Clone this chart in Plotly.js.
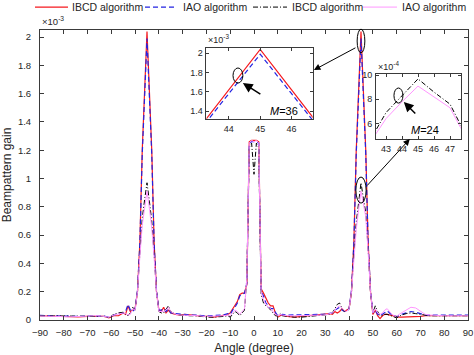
<!DOCTYPE html>
<html>
<head>
<meta charset="utf-8">
<script src="https://cdn.plot.ly/plotly-3.0.1.min.js"></script>
<style>html,body{margin:0;padding:0;background:#fff;}#chart{width:474px;height:355px;}</style>
</head>
<body>
<div id="chart"></div>
<script>
// Angle grid (degrees)
const angleDeg = [
  -90,-86,-82,-78,-74,-70,-66,-63,-61,-59,
  -57,-55,-54,-53,-52,-51,-50,-49,-48,-47,
  -46,-45,-44,-43,-42,-41,-40,-39,-38,-37,
  -36,-35,-33,-31,-29,-27,-25,-23,-21,-19,
  -17,-15,-13,-11,-10,-9,-8,-7,-6,-5,
  -4,-3,-2,-1,0,1,2,3,4,5,
  6,7,8,9,10,11,12,14,17,20,
  23,26,29,31,32,33,34,35,36,37,
  38,39,40,41,42,43,44,45,46,47,
  48,49,50,51,52,53,54,55,56,57,
  58,59,60,61,62,64,66,68,70,72,
  74,77,80,84,88,90
];
// Beampattern gain, in units of 1e-3
const ibcdM36 = [
  0.03,0.028,0.025,0.022,0.022,0.025,0.028,0.025,0.015,0.03,
  0.03,0.05,0.04,0.1,0.06,0.07,0.08,0.2,0.55,1.2,
  1.62,2.04,1.62,1.2,0.55,0.2,0.07,0.06,0.09,0.05,
  0.07,0.05,0.04,0.035,0.04,0.035,0.03,0.028,0.025,0.025,
  0.02,0.025,0.03,0.04,0.05,0.08,0.1,0.13,0.18,0.19,
  0.19,0.25,1.26,1.27,1.27,1.27,1.26,0.22,0.19,0.15,
  0.12,0.1,0.1,0.05,0.02,0.03,0.035,0.025,0.02,0.025,
  0.03,0.03,0.035,0.04,0.045,0.04,0.06,0.05,0.06,0.08,
  0.06,0.07,0.08,0.2,0.55,1.2,1.62,2.04,1.62,1.2,
  0.55,0.2,0.04,0.07,0.03,0.01,0.03,0.04,0.04,0.035,
  0.03,0.025,0.02,0.02,0.02,0.02,0.02,0.02,0.025,0.03,
  0.03,0.03,0.032,0.03,0.03,0.03
];
const iaoM36 = [
  0.032,0.03,0.028,0.025,0.025,0.028,0.03,0.028,0.018,0.035,
  0.045,0.05,0.06,0.11,0.07,0.06,0.08,0.21,0.54,1.17,
  1.58,1.99,1.58,1.17,0.54,0.21,0.07,0.07,0.08,0.06,
  0.08,0.05,0.045,0.04,0.04,0.035,0.035,0.03,0.03,0.03,
  0.03,0.03,0.035,0.045,0.04,0.07,0.09,0.12,0.17,0.18,
  0.19,0.26,1.25,1.26,1.26,1.26,1.25,0.2,0.17,0.12,
  0.1,0.08,0.08,0.05,0.03,0.035,0.04,0.035,0.035,0.035,
  0.035,0.04,0.04,0.045,0.045,0.05,0.07,0.08,0.09,0.07,
  0.06,0.06,0.08,0.21,0.54,1.17,1.58,1.99,1.58,1.17,
  0.54,0.21,0.05,0.07,0.04,0.03,0.04,0.05,0.065,0.05,
  0.035,0.03,0.025,0.03,0.04,0.05,0.06,0.055,0.045,0.035,
  0.035,0.035,0.035,0.035,0.035,0.035
];
const ibcdM24 = [
  0.03,0.03,0.025,0.025,0.025,0.03,0.03,0.025,0.015,0.04,
  0.05,0.055,0.04,0.03,0.05,0.09,0.07,0.2,0.47,0.72,
  0.85,0.97,0.84,0.7,0.46,0.2,0.06,0.05,0.05,0.08,
  0.1,0.06,0.04,0.035,0.03,0.03,0.03,0.025,0.02,0.02,
  0.02,0.02,0.025,0.03,0.02,0.04,0.06,0.05,0.03,0.05,
  0.07,0.3,1.22,1.25,1.03,1.25,1.22,0.18,0.12,0.1,
  0.09,0.07,0.05,0.03,0.03,0.045,0.03,0.025,0.02,0.02,
  0.025,0.025,0.03,0.035,0.04,0.05,0.08,0.11,0.12,0.08,
  0.06,0.06,0.08,0.2,0.46,0.69,0.83,0.97,0.86,0.76,
  0.5,0.2,0.05,0.1,0.06,0.03,0.03,0.04,0.04,0.035,
  0.03,0.025,0.015,0.025,0.035,0.045,0.05,0.045,0.04,0.035,
  0.03,0.03,0.03,0.03,0.03,0.03
];
const iaoM24 = [
  0.028,0.028,0.025,0.022,0.025,0.028,0.03,0.025,0.02,0.035,
  0.045,0.05,0.045,0.035,0.04,0.08,0.07,0.2,0.45,0.67,
  0.79,0.91,0.79,0.65,0.44,0.2,0.06,0.06,0.06,0.07,
  0.09,0.06,0.04,0.035,0.035,0.03,0.03,0.03,0.025,0.025,
  0.025,0.025,0.03,0.035,0.03,0.05,0.07,0.06,0.04,0.06,
  0.08,0.3,1.25,1.27,1.26,1.27,1.25,0.2,0.14,0.11,
  0.09,0.08,0.06,0.04,0.03,0.04,0.035,0.03,0.03,0.03,
  0.03,0.03,0.035,0.04,0.045,0.05,0.07,0.09,0.1,0.08,
  0.065,0.06,0.08,0.2,0.44,0.64,0.78,0.91,0.82,0.73,
  0.48,0.2,0.05,0.08,0.05,0.04,0.05,0.07,0.08,0.06,
  0.04,0.03,0.025,0.04,0.05,0.07,0.09,0.085,0.06,0.04,
  0.035,0.03,0.03,0.03,0.03,0.03
];
const seriesNames = ['IBCD algorithm','IAO algorithm','IBCD algorithm','IAO algorithm'];
const mainXTicks = [-90,-80,-70,-60,-50,-40,-30,-20,-10,0,10,20,30,40,50,60,70,80,90];
const mainYTicks = [0,0.2,0.4,0.6,0.8,1,1.2,1.4,1.6,1.8,2];
const inset36XTicks = [44,45,46];
const inset36YTicks = [1.4,1.6,1.8,2];
const inset24XTicks = [43,44,45,46,47];
const inset24YTicks = [0.6,0.8,1.0];
const inset24YText = ['6','8','10'];

const RED='rgb(245,25,30)', BLUE='rgb(35,35,225)', BLACK='rgb(0,0,0)', PINK='rgb(255,150,255)';
const styles = [
  {color:RED, dash:'solid', width:1.2},
  {color:BLUE, dash:'5px,3px', width:1.2},
  {color:BLACK, dash:'5px,2px,1px,2px', width:1},
  {color:PINK, dash:'solid', width:1}
];
const data = [ibcdM36, iaoM36, ibcdM24, iaoM24];
const traces = [];
data.forEach((y,i)=>traces.push({x:angleDeg, y:y, type:'scatter', mode:'lines', name:seriesNames[i], line:styles[i], xaxis:'x', yaxis:'y'}));
[0,1].forEach(i=>traces.push({x:angleDeg, y:data[i], type:'scatter', mode:'lines', name:seriesNames[i], line:styles[i], xaxis:'x2', yaxis:'y2'}));
[2,3].forEach(i=>traces.push({x:angleDeg, y:data[i], type:'scatter', mode:'lines', name:seriesNames[i], line:styles[i], xaxis:'x3', yaxis:'y3'}));

const FONT='Liberation Sans, Arial, sans-serif';
const TC='#262626';
const axBase = {showgrid:false, zeroline:false, showline:true, automargin:false, linecolor:'#3a3a3a', linewidth:1, mirror:'ticks', ticks:'inside', ticklen:4, tickcolor:'#3a3a3a', tickfont:{family:FONT,size:9.5,color:TC}};

// Legend drawn at the top (paper coordinates)
const legendY = 1.079;
const legendLineX = [[-0.0117,0.0654],[0.2453,0.3201],[0.4977,0.5771],[0.7547,0.8341]];
const legendTextX = [0.0701,0.3294,0.5841,0.8411];

const annotations = [
  {xref:'paper', yref:'paper', x:0, y:1.005, xanchor:'left', yanchor:'bottom', showarrow:false, text:'×10<sup>-3</sup>', font:{family:FONT,size:9.5,color:TC}},
  {xref:'paper', yref:'paper', x:0.389, y:0.94, xanchor:'left', yanchor:'bottom', showarrow:false, text:'×10<sup>-3</sup>', font:{family:FONT,size:9,color:TC}},
  {xref:'paper', yref:'paper', x:0.785, y:0.85, xanchor:'left', yanchor:'bottom', showarrow:false, text:'×10<sup>-4</sup>', font:{family:FONT,size:9,color:TC}},
  {xref:'paper', yref:'paper', x:0.570, y:0.748, showarrow:false, text:'<i>M</i>=36', font:{family:FONT,size:11,color:'#000'}},
  {xref:'paper', yref:'paper', x:0.937, y:0.683, showarrow:false, text:'<i>M</i>=24', font:{family:FONT,size:11,color:'#000'}},
  {xref:'paper', yref:'paper', x:0.640, y:0.862, ax:43, ay:-23, showarrow:true, arrowhead:2, arrowsize:1.3, arrowwidth:1, arrowcolor:'#000', text:''},
  {xref:'paper', yref:'paper', x:0.864, y:0.624, ax:-44, ay:48, showarrow:true, arrowhead:2, arrowsize:1.3, arrowwidth:1, arrowcolor:'#000', text:''},
  {xref:'paper', yref:'paper', x:0.474, y:0.817, ax:19, ay:12, showarrow:true, arrowhead:2, arrowsize:1.3, arrowwidth:1.5, arrowcolor:'#000', text:''},
  {xref:'paper', yref:'paper', x:0.850, y:0.752, ax:13, ay:13, showarrow:true, arrowhead:2, arrowsize:1.3, arrowwidth:1.5, arrowcolor:'#000', text:''}
];
const shapes = [
  {type:'circle', xref:'paper', yref:'paper', x0:0.741, x1:0.759, y0:0.921, y1:1.003, line:{color:'#000', width:1}, layer:'above'},
  {type:'circle', xref:'paper', yref:'paper', x0:0.738, x1:0.762, y0:0.403, y1:0.493, line:{color:'#000', width:1}, layer:'above'},
  {type:'circle', xref:'paper', yref:'paper', x0:0.451, x1:0.474, y0:0.817, y1:0.869, line:{color:'#000', width:1}, layer:'above'},
  {type:'circle', xref:'paper', yref:'paper', x0:0.827, x1:0.848, y0:0.748, y1:0.800, line:{color:'#000', width:1}, layer:'above'}
];
seriesNames.forEach((nm,i)=>{
  shapes.push({type:'line', xref:'paper', yref:'paper', x0:legendLineX[i][0], x1:legendLineX[i][1], y0:legendY, y1:legendY, line:styles[i], layer:'above'});
  annotations.push({xref:'paper', yref:'paper', x:legendTextX[i], y:legendY, xanchor:'left', yanchor:'middle', showarrow:false, text:nm, font:{family:FONT,size:10.5,color:TC}});
});

const layout = {
  width:474, height:355,
  margin:{l:40, r:6, t:30, b:35},
  paper_bgcolor:'#fff', plot_bgcolor:'#fff',
  font:{family:FONT, color:TC},
  showlegend:false,
  xaxis: Object.assign({}, axBase, {domain:[0,1], range:[-90,90], tickmode:'array', tickvals:mainXTicks, ticklabelstandoff:4,
    title:{text:'Angle (degree)', font:{family:FONT,size:12,color:TC}, standoff:6}}),
  yaxis: Object.assign({}, axBase, {domain:[0,1], range:[0,2.05], tickmode:'array', tickvals:mainYTicks, ticktext:mainYTicks.map(String), ticklabelstandoff:6,
    title:{text:'Beampattern gain', font:{family:FONT,size:12,color:TC}, standoff:4}}),
  xaxis2: Object.assign({}, axBase, {domain:[0.389,0.637], anchor:'y2', range:[43.29,46.67], tickmode:'array', tickvals:inset36XTicks, ticklen:3, tickfont:{family:FONT,size:9,color:TC}, ticklabelstandoff:1}),
  yaxis2: Object.assign({}, axBase, {domain:[0.693,0.937], anchor:'x2', range:[1.317,2.052], tickmode:'array', tickvals:inset36YTicks, ticktext:inset36YTicks.map(String), ticklen:3, tickfont:{family:FONT,size:9,color:TC}, ticklabelstandoff:1}),
  xaxis3: Object.assign({}, axBase, {domain:[0.785,0.983], anchor:'y3', range:[42.37,47.67], tickmode:'array', tickvals:inset24XTicks, ticklen:3, tickfont:{family:FONT,size:9,color:TC}, ticklabelstandoff:1}),
  yaxis3: Object.assign({}, axBase, {domain:[0.624,0.848], anchor:'x3', range:[0.47,1.01], tickmode:'array', tickvals:inset24YTicks, ticktext:inset24YText, ticklen:3, tickfont:{family:FONT,size:9,color:TC}, ticklabelstandoff:1}),
  annotations: annotations,
  shapes: shapes
};
Plotly.newPlot('chart', traces, layout, {displayModeBar:false, staticPlot:true});
</script>
</body>
</html>
